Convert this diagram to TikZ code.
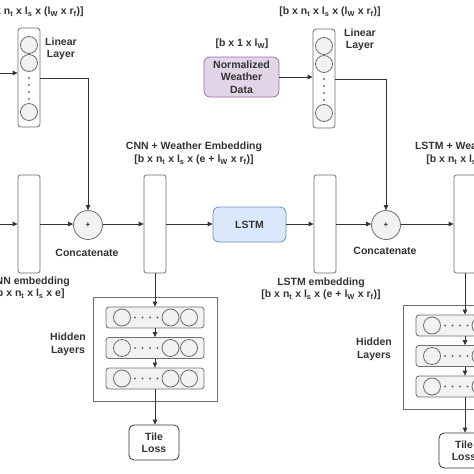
\documentclass[tikz,border=0pt]{standalone}
\usepackage{fontspec}
\setmainfont{Liberation Sans}
\usetikzlibrary{arrows.meta,calc}
\definecolor{txt}{HTML}{333333}
\definecolor{strk}{HTML}{6E6E6E}
\definecolor{lgray}{HTML}{F2F2F2}
\definecolor{lilac}{HTML}{E1D5E7}
\definecolor{lilacd}{HTML}{9673A6}
\definecolor{lblue}{HTML}{DAE8FC}
\definecolor{lblued}{HTML}{6C8EBF}
\newcommand{\sbs}[1]{\textsubscript{#1}}
\begin{document}
\begin{tikzpicture}[x=1pt,y=-1pt,
  lbl/.style={font=\fontsize{10.5}{12.5}\selectfont\bfseries, text=txt, align=center, inner sep=0pt},
  embbox/.style={draw=strk, fill=white, rounded corners=2.5pt, minimum width=22pt, minimum height=98pt, inner sep=0pt, line width=0.8pt},
  linbox/.style={draw=strk, fill=white, rounded corners=3pt, minimum width=22pt, minimum height=99pt, inner sep=0pt, line width=0.8pt},
  neur/.style={circle, draw=strk, fill=lgray, minimum size=17pt, inner sep=0pt, line width=0.8pt},
  dotn/.style={circle, fill=strk, minimum size=2.4pt, inner sep=0pt},
  rowbox/.style={draw=strk, fill=lgray, rounded corners=3pt, minimum width=98pt, minimum height=21pt, inner sep=0pt, line width=0.8pt},
  frame/.style={draw=strk, fill=white, minimum width=124pt, minimum height=104pt, inner sep=0pt, line width=0.8pt},
  lossbox/.style={draw=txt, fill=white, rounded corners=5pt, minimum width=50pt, minimum height=35pt, inner sep=0pt, line width=0.8pt, font=\fontsize{10.5}{12.5}\selectfont\bfseries, text=txt, align=center},
  catnode/.style={circle, draw=strk, fill=lgray, minimum size=29pt, inner sep=0pt, line width=0.8pt, font=\fontsize{8}{8}\selectfont\bfseries, text=txt},
  arr/.style={-{Triangle[length=5pt,width=4.5pt]}, draw=txt, line width=0.8pt},
  ln/.style={draw=txt, line width=0.8pt}]
\useasboundingbox (0,0) rectangle (474,474);
\clip (0,0) rectangle (474,474);
\fill[white] (0,0) rectangle (474,474);

% top labels
\node[lbl] (t1) at (33,12) {{[}b x n\sbs{t} x l\sbs{s} x (l\sbs{W} x r\sbs{f}){]}};
\node[lbl] (t2) at (330,12) {{[}b x n\sbs{t} x l\sbs{s} x (l\sbs{W} x r\sbs{f}){]}};
\node[lbl] (t3) at (242,44) {{[}b x 1 x l\sbs{W}{]}};

% linear layers
\node[linbox] (LL1) at (29,77.5) {};
\node[linbox] (LL2) at (324,78.5) {};
\foreach \L in {LL1,LL2}{
  \node[neur] (\L c1) at ($(\L)+(0,-32.5)$) {};
  \node[neur] (\L c2) at ($(\L)+(0,-14.5)$) {};
  \node[neur] (\L c3) at ($(\L)+(0,34.5)$) {};
  \foreach \k/\dy in {1/0.5,2/7.5,3/14.5,4/21.5}
    \node[dotn] (\L d\k) at ($(\L)+(0,\dy)$) {};
}
\node[lbl] (lt1) at (61,49) {Linear\\Layer};
\node[lbl] (lt2) at (360,40) {Linear\\Layer};

% weather data
\node[draw=lilacd, fill=lilac, rounded corners=6pt, minimum width=75pt, minimum height=40pt, inner sep=0pt, line width=0.8pt, lbl, text=txt] (W) at (241.5,77) {Normalized\\Weather\\Data};

% middle row
\coordinate (in1) at (-5,73);
\coordinate (in2) at (-5,224);
\node[embbox] (E1) at (29,224) {};
\node[catnode] (C1) at (88,225) {+};
\node[embbox] (E2) at (155,224) {};
\node[draw=lblued, fill=lblue, rounded corners=6pt, minimum width=73pt, minimum height=35pt, inner sep=0pt, line width=0.8pt, lbl] (LSTM) at (249.5,224.5) {LSTM};
\node[embbox] (E3) at (325,224) {};
\node[catnode] (C2) at (386,225) {+};
\node[embbox] (E4) at (465,224) {};

\node[lbl] (cat1) at (87,253) {Concatenate};
\node[lbl] (cat2) at (385,251) {Concatenate};
\node[lbl] (e1l) at (29,288) {CNN embedding\\{[}b x n\sbs{t} x l\sbs{s} x e{]}};
\node[lbl] (e2l) at (194,153.5) {CNN + Weather Embedding\\{[}b x n\sbs{t} x l\sbs{s} x (e + l\sbs{W} x r\sbs{f}){]}};
\node[lbl] (e3l) at (321,289) {LSTM embedding\\{[}b x n\sbs{t} x l\sbs{s} x (e + l\sbs{W} x r\sbs{f}){]}};
\node[lbl] (e4l) at (486,153.5) {LSTM + Weather Embedding\\{[}b x n\sbs{t} x l\sbs{s} x (e + l\sbs{W} x r\sbs{f}){]}};

% connectors
\draw[arr] (in1) -- (in1 -| LL1.west);
\draw[arr] (W.east) -- (W.east -| LL2.west);
\draw[arr] ($(LL1.east)+(0,0.5)$) -| (C1.north);
\draw[arr] ($(LL2.east)+(0,0.5)$) -| (C2.north);
\draw[arr] (in2) -- (E1.west);
\draw[arr] (E1.east) -- (E1.east -| C1.west);
\draw[arr] (C1.east |- E2.west) -- (E2.west);
\draw[arr] (E2.east) -- (LSTM.west |- E2.east);
\draw[arr] (LSTM.east |- E3.west) -- (E3.west);
\draw[arr] (E3.east) -- (E3.east -| C2.west);
\draw[arr] (C2.east |- E4.west) -- (E4.west);

% hidden blocks
\foreach \p/\dx/\dy/\hx/\hy/\src in {a/0/0/68/344.5/E2, b/310/8/374/349.5/E4}{
  \node[frame] (\p F) at (155+\dx,349+\dy) {};
  \foreach \r/\ry in {1/317.5,2/348,3/378.5}{
    \node[rowbox] (\p R\r) at (155+\dx,\ry+\dy) {};
    \node[neur] (\p R\r n1) at (122+\dx,\ry+\dy) {};
    \node[neur] (\p R\r n2) at (170.5+\dx,\ry+\dy) {};
    \node[neur] (\p R\r n3) at (189+\dx,\ry+\dy) {};
    \foreach \k/\ddx in {1/135,2/142.5,3/150,4/157.5}
      \node[dotn] (\p R\r d\k) at (\ddx+\dx,\ry+\dy) {};
  }
  \node[lossbox] (\p TL) at (154+\dx,442.5+\dy) {Tile\\Loss};
  \node[lbl] (\p HL) at (\hx,\hy) {Hidden\\Layers};
  \draw[arr] (\src.south) -- (\src.south |- \p R1.north);
  \draw[arr] (\p R1.south) -- (\p R2.north);
  \draw[arr] (\p R2.south) -- (\p R3.north);
  \draw[arr] (\p R3.south) -- (\p R3.south |- \p TL.north);
}
\end{tikzpicture}
\end{document}
